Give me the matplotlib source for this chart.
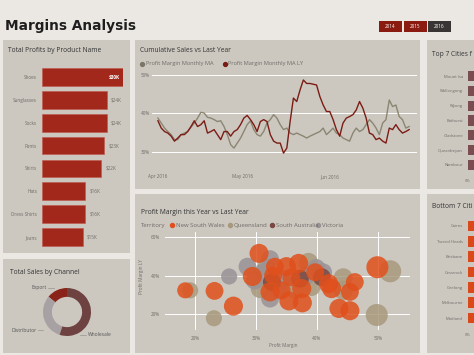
import matplotlib
matplotlib.use("Agg")
import matplotlib.pyplot as plt
import numpy as np
import pandas as pd
from matplotlib.patches import Rectangle
from matplotlib.lines import Line2D

# ---------------- data ----------------
products = ["Shoes", "Sunglasses", "Socks", "Pants", "Shirts", "Hats", "Dress Shirts", "Jeans"]
profits_k = [30, 24, 24, 23, 22, 16, 16, 15]

pm_ma = [38.8, 37.5, 36.2, 35.3, 34.5, 33.2, 33.2, 34.5, 34.9, 35.3, 36.4, 37.5, 38.8, 40.3, 40.1,
         39.0, 38.8, 38.4, 37.9, 38.1, 36.6, 34.5, 31.9, 31.0, 32.3, 33.6, 35.3, 37.1, 38.1, 35.8,
         34.5, 34.1, 35.3, 37.5, 38.4, 39.7, 38.8, 37.1, 35.8, 36.2, 34.9, 34.5, 34.9, 34.5, 34.1,
         33.6, 34.1, 34.5, 34.9, 35.3, 36.2, 34.5, 35.3, 36.2, 34.9, 34.5, 33.6, 33.2, 32.8, 34.9,
         36.2, 35.3, 35.8, 37.1, 38.4, 37.5, 36.2, 34.5, 37.5, 38.4, 43.5, 41.8, 42.2, 39.2, 38.4,
         36.2, 36.6]
pm_ma_ly = [38.1, 36.2, 35.3, 34.9, 34.1, 32.8, 33.6, 34.5, 34.5, 35.3, 36.6, 38.1, 36.6, 37.1, 38.1,
            34.9, 35.3, 35.8, 34.5, 33.2, 35.3, 35.3, 34.1, 35.3, 35.8, 37.1, 38.8, 39.5, 38.4, 37.1,
            35.3, 37.9, 38.4, 37.9, 34.5, 32.8, 32.3, 32.3, 29.7, 31.0, 37.9, 44.0, 43.1, 46.1, 48.7,
            47.8, 47.8, 47.6, 47.4, 44.4, 42.2, 40.5, 40.5, 38.4, 35.8, 34.1, 37.5, 38.8, 39.2, 39.7,
            40.9, 43.1, 41.4, 38.8, 34.9, 34.5, 33.2, 33.6, 32.8, 32.3, 36.2, 35.8, 37.1, 35.8, 34.9,
            35.3, 35.8]
line_start, line_end = "2016-04-01", "2016-06-29"
line_ticks = ["2016-04-01", "2016-05-01", "2016-06-01"]
line_ticklabels = ["Apr 2016", "May 2016", "Jun 2016"]

channels = ["Export", "Distributor", "Wholesale"]
channel_share = [14, 31, 55]

top_cities = ["Mount Isa", "Wollongong", "Wyong", "Bathurst", "Gladstone", "Queanbeyan", "Nambour"]
top_margin = [0.52, 0.51, 0.50, 0.50, 0.49, 0.49, 0.48]
bottom_cities = ["Cairns", "Tweed Heads", "Brisbane", "Cessnock", "Geelong", "Melbourne", "Maitland"]
bottom_margin = [0.30, 0.30, 0.31, 0.31, 0.31, 0.32, 0.32]

territories = ["New South Wales", "Queensland", "South Australia", "Victoria"]
nsw_x = [18.4, 23.2, 26.3, 30.5, 29.4, 32.3, 33.1, 35.0, 37.0, 35.4, 37.6, 37.5, 39.7, 41.9, 42.4, 43.6, 45.4, 46.2, 45.4, 49.9, 34.2, 35.8, 32.8]
nsw_y = [32.3, 32.0, 24.1, 51.5, 39.5, 31.5, 44.6, 44.6, 46.3, 26.8, 25.8, 33.2, 41.7, 35.7, 33.2, 22.9, 21.7, 36.6, 31.5, 44.3, 32.3, 39.1, 40.0]
nsw_s = [75, 92, 105, 105, 105, 105, 92, 105, 105, 105, 105, 105, 92, 105, 105, 105, 105, 92, 92, 140, 92, 92, 92]
qld_x = [19.2, 23.1, 30.7, 31.7, 33.9, 38.6, 39.1, 44.3, 44.3, 52.0, 49.8, 36.4, 32.8]
qld_y = [32.3, 17.8, 33.2, 44.3, 37.8, 46.8, 34.0, 38.8, 32.3, 42.2, 19.5, 32.3, 38.3]
qld_s = [75, 75, 105, 92, 105, 105, 92, 105, 105, 140, 140, 92, 92]
sa_x = [37.2, 32.6, 40.8]
sa_y = [38.3, 36.6, 39.1]
sa_s = [92, 92, 92]
vic_x = [25.6, 28.6, 29.8, 32.3, 32.3, 33.7, 38.3, 41.0, 39.9, 31.2, 34.5]
vic_y = [39.5, 44.6, 37.4, 48.5, 28.0, 32.3, 40.0, 41.7, 43.9, 41.7, 38.3]
vic_s = [75, 92, 92, 92, 92, 92, 92, 92, 92, 92, 92]

years = ["2014", "2015", "2016"]

# ---------------- style ----------------
W, H = 474, 355
BG = "#ebe8e3"
PANEL = "#ccc8c0"
BAR = "#a3281c"
TXT = "#333333"
TICK = "#6f6b66"
FONT = "Open Sans"
BUBBLE_SCALE = 1.8
plt.rcParams["font.family"] = [FONT, "DejaVu Sans"]

fig = plt.figure(figsize=(W / 100, H / 100), dpi=100, facecolor=BG)


def fx(x):
    return x / W


def fy(y):
    return 1 - y / H


def rect(x0, y0, x1, y1):
    return [x0 / W, 1 - y1 / H, (x1 - x0) / W, (y1 - y0) / H]


def panel(x0, y0, x1, y1, color=PANEL, z=-10):
    fig.patches.append(Rectangle((fx(x0), fy(y1)), (x1 - x0) / W, (y1 - y0) / H,
                                 transform=fig.transFigure, facecolor=color, edgecolor="none", zorder=z))


def clean(ax):
    ax.set_facecolor("none")
    for s in ax.spines.values():
        s.set_visible(False)


# panels
panel(3, 40, 130, 253)
panel(3, 259, 130, 353)
panel(135, 40, 420, 189)
panel(135, 194, 420, 353)
panel(427, 40, 480, 189)
panel(427, 194, 480, 353)

# title + year buttons
fig.text(fx(5), fy(30), "Margins Analysis", fontsize=9.9, fontweight="bold",
         family="DejaVu Sans", color="#1e1e1e", va="baseline")
btn_x = [379, 404, 428]
btn_col = ["#8b1a10", "#8b1a10", "#3a3535"]
for xb, yr, c in zip(btn_x, years, btn_col):
    panel(xb, 21, xb + 23, 32, c)
    fig.text(fx(xb + 11.5), fy(26.5), yr, fontsize=3.3, color="white", ha="center", va="center")

# ---------------- bar chart ----------------
fig.text(fx(8), fy(50), "Total Profits by Product Name", fontsize=4.8, color=TXT, va="center")
ax = fig.add_axes(rect(42, 65.6, 123, 248.4))
clean(ax)
ypos = np.arange(len(products))
ax.barh(ypos, profits_k, height=0.77, color=BAR, edgecolor="#c0564a", linewidth=0.4)
ax.set_xlim(0, max(profits_k))
ax.set_ylim(len(products) - 0.5, -0.5)
ax.set_xticks([])
ax.set_yticks(ypos)
ax.set_yticklabels(products, fontsize=3.3, color=TICK)
ax.tick_params(axis="y", length=0, pad=3.6)
for i, v in enumerate(profits_k):
    if i == 0:
        ax.text(v - 1.0, i, f"${v}K", color="white", fontsize=3.4, weight="bold",
                ha="right", va="center")
    else:
        ax.text(v + 1.6, i, f"${v}K", color=TICK, fontsize=3.3, ha="left", va="center")

# ---------------- line chart ----------------
fig.text(fx(140), fy(51), "Cumulative Sales vs Last Year", fontsize=4.8, color=TXT, va="center")
for xm, col, lab in [(142, "#7d7668", "Profit Margin Monthly MA"),
                     (225, "#7b1c14", "Profit Margin Monthly MA LY")]:
    fig.add_artist(Line2D([fx(xm)], [fy(64)], marker="o", ms=2.8, color=col,
                          transform=fig.transFigure, linestyle="none"))
    fig.text(fx(xm + 3.5), fy(64), lab, fontsize=4.1, color=TICK, va="center")

ax = fig.add_axes(rect(152, 70, 417, 165))
clean(ax)
dates = pd.date_range(line_start, line_end, periods=len(pm_ma))
ax.plot(dates, pm_ma, color="#8c8572", lw=1.0)
ax.plot(dates, pm_ma_ly, color="#7b1c14", lw=1.0)
t0 = pd.Timestamp(line_start)
ax.set_xlim(t0 - pd.Timedelta(days=2.1), t0 + pd.Timedelta(days=91.8))
ax.set_ylim(26.6, 51.3)
ax.set_yticks([30, 40, 50])
ax.set_yticklabels(["30%", "40%", "50%"], fontsize=3.3, color=TICK)
ax.set_xticks(pd.to_datetime(line_ticks))
ax.set_xticklabels(line_ticklabels, fontsize=3.3, color=TICK)
ax.tick_params(axis="y", length=0, pad=1.5)
ax.tick_params(axis="x", length=0, pad=6.5)
ax.grid(axis="y", color="white", lw=0.7)
ax.set_axisbelow(True)

# ---------------- scatter ----------------
fig.text(fx(141), fy(213), "Profit Margin this Year vs Last Year", fontsize=4.8, color=TXT, va="center")
sc_cols = ["#e0501c", "#a8997d", "#7a4840", "#9a9296"]
fig.text(fx(141), fy(225), "Territory", fontsize=4.3, color=TICK, va="center")
leg_x = [172, 230, 272, 318]
for xm, col, lab in zip(leg_x, sc_cols, territories):
    fig.add_artist(Line2D([fx(xm)], [fy(225)], marker="o", ms=2.9, color=col,
                          transform=fig.transFigure, linestyle="none"))
    fig.text(fx(xm + 3.5), fy(225), lab, fontsize=4.3, color=TICK, va="center")

ax = fig.add_axes(rect(165, 232, 410, 330))
clean(ax)
for xs, ys, ss, c in [(qld_x, qld_y, qld_s, sc_cols[1]), (vic_x, vic_y, vic_s, sc_cols[3]),
                      (sa_x, sa_y, sa_s, sc_cols[2]), (nsw_x, nsw_y, nsw_s, sc_cols[0])]:
    ax.scatter(xs, ys, s=np.array(ss) * BUBBLE_SCALE, color=c, alpha=0.85, linewidths=0, zorder=3)
ax.set_xlim(15.08, 55.25)
ax.set_ylim(11.7, 62.6)
ax.set_xticks([20, 30, 40, 50])
ax.set_xticklabels(["20%", "30%", "40%", "50%"], fontsize=3.3, color=TICK)
ax.set_yticks([20, 40, 60])
ax.set_yticklabels(["20%", "40%", "60%"], fontsize=3.3, color=TICK)
ax.tick_params(length=0)
ax.tick_params(axis="x", pad=4)
ax.tick_params(axis="y", pad=3.6)
ax.grid(color="white", lw=0.7)
ax.set_axisbelow(True)
fig.text(fx(283), fy(346), "Profit Margin", fontsize=3.3, color=TICK, ha="center", va="center")
fig.text(fx(142), fy(277), "Profit Margin LY", fontsize=3.3, color=TICK, ha="center",
         va="center", rotation=90)

# ---------------- donut ----------------
fig.text(fx(10), fy(273), "Total Sales by Channel", fontsize=4.8, color=TXT, va="center")
ax = fig.add_axes(rect(37, 282, 97, 342))
ax.pie(channel_share, colors=["#8b2418", "#a8a1a3", "#6e4240"], startangle=90,
       counterclock=True, wedgeprops=dict(width=0.37, edgecolor="none"))
ax.set_aspect("equal")
for lab, (lx, ly, ha, l0, l1) in zip(channels, [(47, 288, "right", 48, 54),
                                                 (37, 330, "right", 38, 43),
                                                 (88, 335, "left", 80, 86)]):
    fig.text(fx(lx), fy(ly), lab, fontsize=3.6, color="#555555", ha=ha, va="center")
    fig.add_artist(Line2D([fx(l0), fx(l1)], [fy(ly), fy(ly)], color="#8a8580", lw=0.4,
                          transform=fig.transFigure))

# ---------------- top / bottom cities ----------------
fig.text(fx(432), fy(55), "Top 7 Cities f", fontsize=4.8, color=TXT, va="center")
ax = fig.add_axes(rect(468, 68.6, 520, 172.4))
clean(ax)
yy = np.arange(len(top_cities))
ax.barh(yy, top_margin, height=0.68, color="#7a4d50")
ax.set_xlim(0, 0.6)
ax.set_ylim(len(top_cities) - 0.5, -0.5)
ax.set_yticks(yy)
ax.set_yticklabels(top_cities, fontsize=3.0, color=TICK)
ax.set_xticks([0])
ax.set_xticklabels(["0%"], fontsize=3.0, color=TICK)
ax.tick_params(length=0)
ax.tick_params(axis="y", pad=3.6)
ax.tick_params(axis="x", pad=5)

fig.text(fx(432), fy(206), "Bottom 7 Citi", fontsize=4.8, color=TXT, va="center")
ax = fig.add_axes(rect(468, 218.3, 520, 325.7))
clean(ax)
yy = np.arange(len(bottom_cities))
ax.barh(yy, bottom_margin, height=0.68, color="#d9491a")
ax.set_xlim(0, 0.4)
ax.set_ylim(len(bottom_cities) - 0.5, -0.5)
ax.set_yticks(yy)
ax.set_yticklabels(bottom_cities, fontsize=3.0, color=TICK)
ax.set_xticks([0])
ax.set_xticklabels(["0%"], fontsize=3.0, color=TICK)
ax.tick_params(length=0)
ax.tick_params(axis="y", pad=3.6)
ax.tick_params(axis="x", pad=5)

fig.savefig("out.png", dpi=100, facecolor=BG)
